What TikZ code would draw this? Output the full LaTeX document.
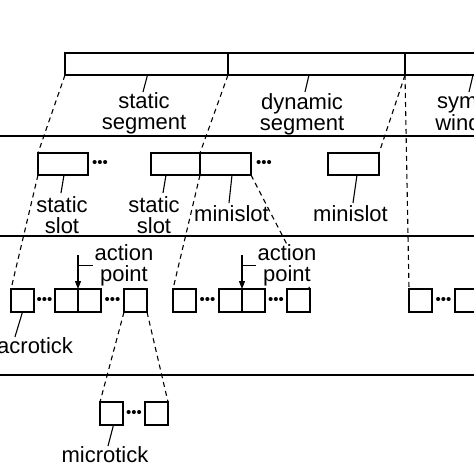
\documentclass[tikz,border=0pt]{standalone}
\usepackage{fontspec}
\setmainfont{Liberation Sans}
\usetikzlibrary{positioning,arrows.meta,calc}

\begin{document}
\begin{tikzpicture}[x=1pt, y=-1pt, line width=1.2pt,
    every node/.style={inner sep=0pt, outer sep=0pt},
    seg/.style={draw, anchor=north west, minimum height=22pt},
    tickbox/.style={draw, anchor=north west, minimum width=23pt, minimum height=23pt},
    lbl/.style={font=\fontsize{22}{20.5}\selectfont, align=center, anchor=north},
    more/.style={font=\fontsize{15}{15}\selectfont},
    map/.style={dash pattern=on 5pt off 4pt, line width=1.1pt},
    lead/.style={line width=1.1pt},
    point/.style={lead, -{Triangle[length=8pt,width=6pt]}}]
      \useasboundingbox (0,0) rectangle (474,474);
      \clip (0,0) rectangle (474,474);
      % Cycle bar
      \node[seg, minimum width=163pt] (sseg) at (65,53) {};
      \node[seg, minimum width=177pt] (dseg) at (sseg.north east) {};
      \node[seg, minimum width=120pt] (wseg) at (dseg.north east) {};
      \node[lbl] (sseglbl) at (144,93) {static\\segment};
      \node[lbl] (dseglbl) at (302,94) {dynamic\\segment};
      \node[lbl] (wseglbl) at (472,93) {symbol\\window};
      \draw[lead] ([xshift=1pt]sseg.south) -- ([xshift=-1pt,yshift=1pt]sseglbl.north);
      \draw[lead] ([xshift=-7.5pt]dseg.south) -- ([xshift=3pt,yshift=2pt]dseglbl.north);
      \draw[lead] ([xshift=8pt]wseg.south) -- ([xshift=-3pt,yshift=1pt]wseglbl.north);
      % Level borders
      \draw (-5,136) -- (480,136);
      \draw (-5,236) -- (480,236);
      \draw (-5,375) -- (480,375);
      % Slots
      \node[seg, minimum width=50pt] (ss1) at (38,153) {};
      \node[more, right=4pt of ss1] (sd1) {\textbullet\textbullet\textbullet};
      \node[seg, minimum width=49pt] (ss2) at (151,153) {};
      \node[seg, minimum width=51pt] (ms1) at (ss2.north east) {};
      \node[more, right=5pt of ms1] (sd2) {\textbullet\textbullet\textbullet};
      \node[seg, minimum width=51pt] (ms2) at (328,153) {};
      \node[lbl] (ss1lbl) at (62,197) {static\\slot};
      \node[lbl] (ss2lbl) at (154,197) {static\\slot};
      \node[lbl] (ms1lbl) at (231.5,206) {minislot};
      \node[lbl] (ms2lbl) at (350.5,206) {minislot};
      \draw[lead] ([xshift=1pt]ss1.south) -- ([xshift=-1pt,yshift=4pt]ss1lbl.north);
      \draw[lead] ([xshift=-9.5pt]ss2.south) -- ([xshift=9pt,yshift=4pt]ss2lbl.north);
      \draw[lead] ([xshift=6.5pt]ms1.south) -- ([xshift=-2.5pt,yshift=3pt]ms1lbl.north);
      \draw[lead] ([xshift=3.5pt]ms2.south) -- ([xshift=2.5pt,yshift=3pt]ms2lbl.north);
      % Macroticks
      \node[tickbox] (m1) at (11,289) {};
      \node[tickbox] (m2) at (55,289) {};
      \node[tickbox] (m3) at (m2.north east) {};
      \node[tickbox] (m4) at (124,289) {};
      \node[tickbox] (m5) at (173,289) {};
      \node[tickbox] (m6) at (219,289) {};
      \node[tickbox] (m7) at (m6.north east) {};
      \node[tickbox] (m8) at (287,289) {};
      \node[tickbox] (m9) at (409,289) {};
      \node[tickbox] (m10) at (455,289) {};
      \node[more] (md1) at ($(m1.east)!0.5!(m2.west)$) {\textbullet\textbullet\textbullet};
      \node[more] (md2) at ($(m3.east)!0.5!(m4.west)$) {\textbullet\textbullet\textbullet};
      \node[more] (md3) at ($(m5.east)!0.5!(m6.west)$) {\textbullet\textbullet\textbullet};
      \node[more] (md4) at ($(m7.east)!0.5!(m8.west)$) {\textbullet\textbullet\textbullet};
      \node[more] (md5) at ($(m9.east)!0.5!(m10.west)$) {\textbullet\textbullet\textbullet};
      \node[lbl, anchor=north east] (mtlbl) at (73,338) {macrotick};
      \draw[lead] (m1.south) -- ([xshift=-11pt,yshift=1pt]mtlbl.north);
      % Microticks
      \node[tickbox] (u1) at (100,402) {};
      \node[tickbox] (u2) at (145,402) {};
      \node[more] (ud1) at ($(u1.east)!0.5!(u2.west)$) {\textbullet\textbullet\textbullet};
      \node[lbl] (utlbl) at (105,447) {microtick};
      \draw[lead] ([xshift=2pt]u1.south) -- ([xshift=3pt,yshift=1pt]utlbl.north);
      % Zoom lines
      \draw[map] (sseg.south west) -- (ss1.north west);
      \draw[map] (ss1.south west) -- (m1.north west);
      \draw[map] (sseg.south east) -- (ms1.north west);
      \draw[map] (ms1.south west) -- (m5.north west);
      \draw[map] (dseg.south east) -- (ms2.north east);
      \draw[map] (dseg.south east) -- (m9.north west);
      \draw[map] (ms1.south east) -- (m8.north east);
      \draw[map] (m4.south west) -- (u1.north west);
      \draw[map] (m4.south east) -- (u2.north east);
      % Action points
      \node[lbl, fill=white] (ap1) at (124,245) {action\\point};
      \node[lbl, fill=white] (ap2) at (287,245) {action\\point};
      \coordinate (ap1top) at ($(m2.north east)+(0,-34)$);
      \coordinate (ap2top) at ($(m6.north east)+(0,-34)$);
      \draw[point] (ap1top) -- (m2.north east);
      \draw[point] (ap2top) -- (m6.north east);
      \draw[lead] ([xshift=-2pt]ap1.west) -- (ap1.west -| m2.north east);
      \draw[lead] ([xshift=-2pt]ap2.west) -- (ap2.west -| m6.north east);
\end{tikzpicture}
\end{document}
